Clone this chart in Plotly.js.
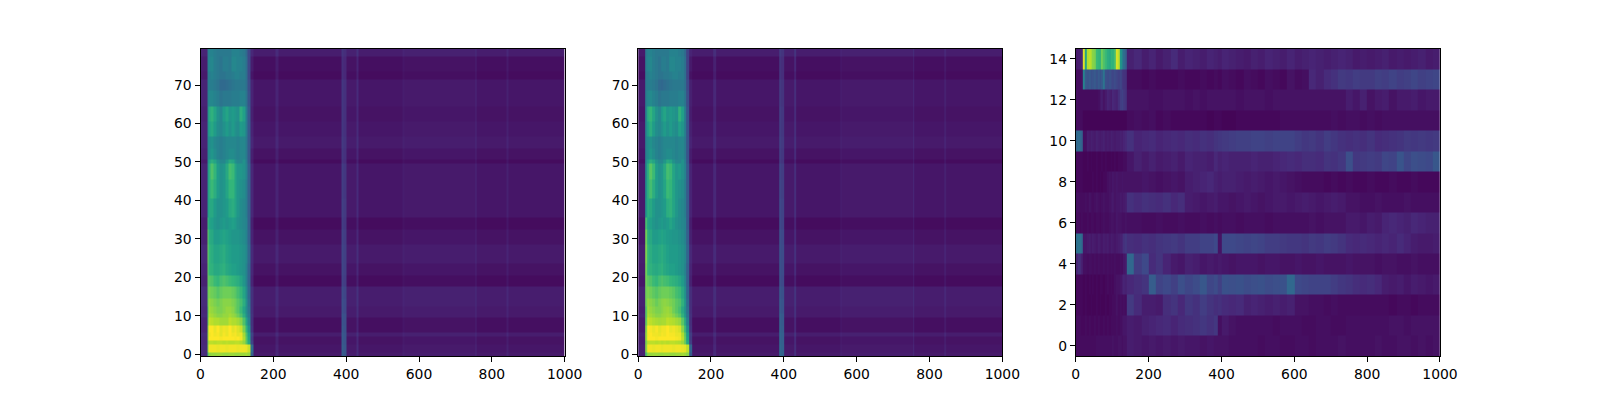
<!DOCTYPE html>
<html>
<head>
<meta charset="utf-8">
<script src="https://cdn.plot.ly/plotly-3.0.1.min.js"></script>
<style>html,body{margin:0;padding:0;background:#fff}#chart{width:1600px;height:400px}</style>
</head>
<body>
<div id="chart"></div>
<script>
// Shared band edges of the two spectrogram panels
const specY = [-0.5,0.5,2.5,3.5,4.5,5.5,7.5,9.5,10.5,12.5,14.5,17.5,20.5,23.5,28.5,32.5,35.5,40.5,45.5,49.5,50.5,53.5,56.5,60.5,64.5,68.5,71.5,73.5,77.5,79.5];
const leftX = [0,18,22,28,36,44,52,60,68,76,84,92,100,108,116,124,130,137,145,207,214,388,394,400,428,434,555,560,754,758,840,845,1000];
const midX = [0,20,24,30,38,46,54,62,70,78,86,94,102,110,118,126,132,139,147,207,214,388,394,402,428,434,555,560,754,758,840,845,1000];
const leftZ = [
[12,70,82,84,84,85,85,84,84,85,85,84,84,85,85,86,84,30, 7,11,7,29,27,8,13,7,9,8,12,7,10,7],
[12,80,98,98,98,97,98,98,97,98,98,98,97,98,98,97,92,35, 6,10,6,29,27,7,12,6,8,7,11,6,9,6],
[11,78,90,90,89,90,90,89,90,89,89,90,90,88,84,74,60,20, 5,9,5,28,26,6,11,5,7,6,10,5,8,5],
[11,82,100,100,100,100,99,100,100,100,100,99,100,98,88,74,58,18, 5,9,5,28,26,6,11,5,7,6,10,5,8,5],
[12,82,98,100,98,99,96,99,97,100,98,99,96,97,86,72,56,20, 8,12,8,28,26,9,14,8,10,9,13,8,11,8],
[10,80,100,100,97,100,96,98,97,100,96,98,95,92,80,66,50,15, 4,8,4,27,25,5,10,4,6,5,9,4,7,4],
[10,74,92,90,88,88,86,86,86,90,88,88,86,82,72,58,44,14, 4,8,4,26,24,5,10,4,6,5,9,4,7,4],
[12,72,88,86,84,82,82,84,84,86,84,82,78,72,62,50,40,15, 7,11,7,26,24,8,13,7,9,8,12,7,10,7],
[11,72,86,84,82,80,80,82,84,84,82,78,74,68,58,48,38,14, 7,11,7,24,22,8,13,7,9,8,12,7,10,7],
[12,76,84,82,80,78,80,82,82,82,80,78,74,70,62,50,36,14, 8,12,8,24,22,9,14,8,10,9,13,8,11,8],
[12,76,80,78,76,73,76,78,78,78,76,74,70,66,58,48,34,14, 8,12,8,23,21,9,14,8,10,9,13,8,11,8],
[9,76,74,72,68,66,70,72,70,68,66,64,62,58,52,44,32,10, 3,7,3,20,18,4,9,3,5,4,8,3,6,3],
[10,76,66,64,60,60,62,64,60,58,56,56,54,52,50,44,32,11, 5,9,5,21,19,6,11,5,7,6,10,5,8,5],
[11,78,66,62,58,58,60,62,58,56,54,54,54,52,50,46,34,12, 7,11,7,21,19,8,13,7,9,8,12,7,10,7],
[9,76,62,60,54,54,56,58,56,54,52,52,52,50,48,44,32,10, 5,9,5,20,18,6,11,5,7,6,10,5,8,5],
[8,68,58,56,52,50,52,54,52,54,56,54,50,48,46,44,30,9, 3,7,3,18,16,4,9,3,5,4,8,3,6,3],
[10,52,60,60,54,50,50,52,54,60,62,58,52,48,46,42,30,11, 6,10,6,19,17,7,12,6,8,7,11,6,9,6],
[10,50,62,68,62,54,50,52,58,66,66,58,52,50,48,42,30,11, 6,10,6,18,16,7,12,6,8,7,11,6,9,6],
[10,48,62,72,66,54,50,52,60,70,68,58,52,52,50,44,30,11, 6,10,6,18,16,7,12,6,8,7,11,6,9,6],
[7,46,56,62,58,50,46,46,52,60,58,50,46,46,50,42,28,8, 3,7,3,15,13,4,9,3,5,4,8,3,6,3],
[9,44,48,52,48,44,42,44,46,48,48,46,44,46,46,40,28,9, 5,9,5,16,14,6,11,5,7,6,10,5,8,5],
[10,44,48,50,46,44,42,44,46,46,46,46,44,46,46,40,28,11, 7,11,7,17,15,8,13,7,9,8,12,7,10,7],
[10,46,56,60,54,48,46,50,54,50,54,50,48,54,52,42,28,10, 6,10,6,16,14,7,12,6,8,7,11,6,9,6],
[9,46,60,64,58,50,46,54,58,52,54,52,50,62,56,42,28,9, 5,9,5,16,14,6,11,5,7,6,10,5,8,5],
[10,42,46,46,44,42,38,40,40,40,42,42,42,44,44,38,26,10, 6,10,6,16,14,7,12,6,8,7,11,6,9,6],
[10,40,42,42,40,38,34,34,35,37,39,40,40,40,40,36,24,10, 6,10,6,16,14,7,12,6,8,7,11,6,9,6],
[7,40,42,44,42,40,38,38,40,40,42,44,44,42,42,36,22,6, 3,7,3,13,11,4,9,3,5,4,8,3,6,3],
[8,42,45,46,42,40,38,42,42,40,46,46,44,44,42,36,22,8, 4,8,4,13,11,5,10,4,6,5,9,4,7,4],
[10,40,44,44,42,40,40,40,40,40,44,44,44,42,40,34,22,11, 8,12,8,15,13,9,14,8,10,9,13,8,11,8]
];
const midZ = [
[9,72,83,84,85,85,84,84,85,85,84,84,85,85,86,85,82,28, 7,12,7,33,31,8,14,7,9,8,12,7,10,7],
[9,82,98,98,97,98,98,97,98,98,98,97,98,98,97,96,90,32, 6,11,6,33,31,7,13,6,8,7,11,6,9,6],
[8,80,90,90,90,89,90,89,90,89,90,90,89,88,85,76,58,18, 5,10,5,32,30,6,12,5,7,6,10,5,8,5],
[8,84,100,100,100,99,100,100,100,100,100,100,99,98,90,76,56,17, 5,10,5,32,30,6,12,5,7,6,10,5,8,5],
[9,84,99,100,98,98,97,99,98,100,99,99,97,97,88,74,54,18, 8,13,8,32,30,9,15,8,10,9,13,8,11,8],
[7,82,100,99,97,99,96,98,98,100,97,98,96,94,82,68,48,14, 4,9,4,31,29,5,11,4,6,5,9,4,7,4],
[7,76,92,90,88,87,86,87,87,90,89,88,86,84,74,60,42,13, 4,9,4,30,28,5,11,4,6,5,9,4,7,4],
[9,74,88,86,84,82,82,84,85,86,85,82,78,74,64,52,38,14, 7,12,7,30,28,8,14,7,9,8,12,7,10,7],
[8,74,86,84,82,80,80,82,84,85,83,78,74,70,60,50,36,13, 7,12,7,28,26,8,14,7,9,8,12,7,10,7],
[9,78,84,82,80,77,80,82,83,82,80,78,74,72,64,52,34,13, 8,13,8,28,26,9,15,8,10,9,13,8,11,8],
[9,78,80,78,75,73,76,78,78,78,76,74,70,68,60,50,32,13, 8,13,8,27,25,9,15,8,10,9,13,8,11,8],
[6,78,74,72,68,66,70,72,70,69,66,64,62,59,54,46,30,9, 3,8,3,24,22,4,9,3,5,4,8,3,6,3],
[7,78,66,64,61,60,62,64,60,58,56,56,54,52,50,44,30,10, 5,10,5,25,23,6,12,5,7,6,10,5,8,5],
[8,80,66,62,58,58,60,62,59,56,54,54,54,52,50,46,32,11, 7,12,7,25,23,8,14,7,9,8,12,7,10,7],
[6,78,62,60,54,54,56,58,56,54,53,52,52,50,48,44,30,9, 5,10,5,24,22,6,12,5,7,6,10,5,8,5],
[5,70,58,56,52,50,52,54,52,54,58,54,50,48,46,44,28,8, 3,8,3,22,20,4,10,3,5,4,8,3,6,3],
[7,52,62,60,54,50,50,52,54,62,64,58,52,48,46,42,28,10, 6,11,6,22,20,7,13,6,8,7,11,6,9,6],
[7,50,64,70,62,54,50,52,58,68,66,58,52,50,48,42,28,10, 6,11,6,21,19,7,13,6,8,7,11,6,9,6],
[7,48,64,74,68,54,50,52,60,70,68,58,52,54,50,44,28,10, 6,11,6,20,18,7,13,6,8,7,11,6,9,6],
[4,46,56,62,58,50,46,46,52,60,58,50,46,46,50,42,26,7, 3,8,3,17,15,4,9,3,5,4,8,3,6,3],
[6,44,48,52,48,44,42,44,46,48,48,46,44,46,46,40,26,8, 5,10,5,18,16,6,12,5,7,6,10,5,8,5],
[7,44,48,50,46,44,42,44,46,46,46,46,44,46,46,40,26,10, 7,12,7,19,17,8,14,7,9,8,12,7,10,7],
[7,46,56,62,54,48,46,50,54,50,54,50,48,56,52,42,26,9, 6,11,6,18,16,7,13,6,8,7,11,6,9,6],
[6,46,62,66,58,50,46,54,58,52,54,52,50,64,56,42,26,8, 5,10,5,18,16,6,12,5,7,6,10,5,8,5],
[7,42,46,47,44,42,38,40,40,40,42,42,42,44,44,38,24,9, 6,11,6,17,15,7,13,6,8,7,11,6,9,6],
[7,40,42,42,40,38,34,33,35,37,39,40,40,40,40,36,22,9, 6,11,6,17,15,7,13,6,8,7,11,6,9,6],
[4,40,42,44,42,40,38,38,40,40,42,44,44,42,42,36,20,5, 3,8,3,15,13,4,9,3,5,4,8,3,6,3],
[5,42,45,46,42,40,38,42,42,40,46,46,44,44,42,36,20,7, 4,9,4,15,13,5,11,4,6,5,9,4,7,4],
[7,40,44,44,42,40,40,40,40,40,44,44,44,42,40,34,20,10, 8,13,8,17,15,9,15,8,10,9,13,8,11,8]
];

// Third panel
const rightY = [-0.5,0.5,1.5,2.5,3.5,4.5,5.5,6.5,7.5,8.5,9.5,10.5,11.5,12.5,13.5,14.5];
const rightX = [0,5,10,15,20,25,30,35,40,45,50,55,60,65,70,75,80,85,90,95,100,105,110,115,120,125,130,135,140,160,180,200,220,240,260,280,300,320,340,360,380,390,400,420,440,460,480,500,520,540,560,580,600,620,640,660,680,700,720,740,760,780,800,820,840,860,880,900,920,940,960,980,1000];
const rightZ = [
[3,3,3,3,3,3,3,3,3,3,3,4,4,4,4,4,4,4,4,4,5,4,4,5,5,4,5,5, 8,7,6,7,6,7,6,7,6,6,5,6,5,5,5,4,4,4,4,3,4,4,3,3,4,4,3,4,4,4,5,4,4,4,4,5,4,4,5,5,4,5,4,5],
[3,3,3,2,2,3,2,3,2,2,3,2,3,2,2,3,2,3,2,3,3,3,4,3,4,5,6,6, 8,7,9,10,11,12,10,12,13,14,16,14,16,4,7,5,4,4,4,4,4,3,4,4,4,3,3,4,4,3,3,4,4,4,4,4,4,5,5,4,5,5,5,5],
[2,2,2,2,1,2,1,1,2,1,1,2,1,2,1,1,2,1,2,2,3,3,5,3,4,3,4,3, 17,12,8,8,7,13,15,11,16,14,18,15,13,14,12,11,12,9,10,9,8,9,8,9,5,5,4,4,3,4,3,3,3,3,3,3,3,2,3,3,2,3,3,3],
[2,2,2,2,1,2,1,2,1,2,1,2,1,2,2,1,2,3,2,3,2,4,5,5,6,8,10,9, 11,13,15,29,20,22,19,24,21,23,27,21,23,19,25,24,25,23,24,25,23,24,25,33,22,21,20,20,20,18,16,15,13,12,13,11,8,7,8,6,8,7,6,7],
[10,14,13,9,4,4,3,4,4,3,4,3,4,3,3,4,3,4,3,4,3,4,3,3,4,3,6,7, 33,18,22,12,15,10,7,6,9,8,6,7,6,7,6,5,6,6,6,5,6,6,5,5,6,5,5,6,5,5,5,6,5,5,5,4,5,5,4,4,5,4,4,4],
[36,38,38,34,6,6,7,8,6,8,7,6,8,7,6,8,7,8,6,8,7,6,7,8,9,10,14,16, 13,12,14,13,15,16,17,15,18,18,20,20,22,5,22,22,21,20,21,20,18,18,17,16,16,15,17,16,18,17,15,12,11,12,11,10,11,10,12,10,8,7,7,8],
[3,3,2,3,2,2,3,2,3,3,2,3,3,2,3,4,3,3,4,5,5,4,6,5,5,4,4,5, 4,4,3,3,4,3,3,4,3,3,4,3,4,3,4,4,3,4,4,4,3,4,4,4,4,4,5,4,5,5,5,7,7,6,8,7,10,11,10,9,11,10,9,9],
[4,4,3,3,3,4,3,5,4,3,4,5,4,3,4,5,4,4,5,6,7,5,6,6,7,6,7,8, 14,12,14,13,12,14,11,13,8,7,6,7,8,6,6,5,6,7,6,5,6,7,7,6,7,8,7,6,7,8,7,5,5,4,4,5,4,4,4,5,4,4,4,4],
[2,2,2,2,1,1,1,1,1,2,1,2,1,2,1,2,2,4,5,4,6,5,6,5,5,6,5,5, 5,5,6,5,4,5,6,5,8,9,10,11,9,8,9,9,8,7,8,7,6,7,6,5,4,3,3,3,2,3,2,3,2,2,3,2,2,3,2,2,3,2,2,2],
[2,2,2,2,1,1,2,1,2,1,1,2,1,1,2,1,2,1,1,2,1,2,1,2,2,2,3,3, 6,9,7,9,7,8,9,7,10,9,9,8,11,9,10,9,9,9,10,9,9,10,11,12,11,13,13,12,15,14,16,24,16,17,18,17,21,20,26,21,24,23,22,27],
[33,35,34,31,4,4,8,7,9,8,7,9,8,7,8,9,7,8,7,9,8,7,8,8,9,8,10,11, 14,10,11,12,10,11,12,11,13,12,14,13,15,16,17,18,19,19,20,20,19,20,20,20,18,16,17,15,18,16,14,13,14,13,15,12,13,14,15,17,16,17,16,17],
[3,3,3,3,1,1,1,1,1,1,1,1,1,1,1,1,1,1,1,1,1,1,1,1,1,1,1,1, 3,4,3,4,2,3,2,2,2,2,2,1,2,2,1,1,2,2,2,2,2,2,3,3,3,3,3,3,3,4,3,4,4,3,4,3,4,4,4,4,4,4,4,4],
[4,3,3,3,3,3,3,3,3,3,3,3,4,6,8,5,7,10,9,7,11,10,9,13,18,20,17,15, 5,5,5,4,4,5,5,5,4,5,4,5,5,5,5,5,4,5,5,5,4,5,5,5,5,5,5,5,5,5,5,8,6,9,5,7,8,5,7,7,8,6,7,7],
[3,3,3,4,44,28,26,28,25,26,28,25,28,25,28,38,25,23,25,23,21,23,21,19,21,17,15,14, 3,3,2,3,2,2,2,3,2,2,3,2,3,2,4,3,2,4,3,2,4,3,2,5,3,4,11,9,12,14,17,16,18,17,17,19,18,20,18,19,21,19,20,21],
[7,8,9,10,95,58,88,90,88,82,80,68,66,62,78,72,68,62,60,66,64,70,94,90,52,44,36,30, 9,11,8,10,7,9,12,8,10,9,8,10,9,8,10,9,8,7,9,8,10,9,8,10,8,9,10,9,8,9,10,9,7,8,7,8,9,7,8,7,8,9,7,8]
];

const xTicks = [0,200,400,600,800,1000];
const leftYTicks = [0,10,20,30,40,50,60,70];
const rightYTicks = [0,2,4,6,8,10,12,14];
const viridis = [[0,'#440154'],[0.11,'#482878'],[0.22,'#3e4989'],[0.33,'#31688e'],[0.44,'#26828e'],[0.55,'#1f9e89'],[0.67,'#35b779'],[0.78,'#6ece58'],[0.89,'#b5de2b'],[1,'#fde725']];

function heat(x, y, z, xa, ya) {
  return {type:'heatmap', x:x, y:y, z:z, xaxis:xa, yaxis:ya, zmin:0, zmax:100,
          colorscale:viridis, showscale:false, hoverinfo:'skip'};
}
function axis(domain, range, ticks, anchor) {
  return {domain:domain, range:range, anchor:anchor, tickmode:'array', tickvals:ticks, ticktext:ticks.map(String),
          ticks:'outside', ticklen:5, tickwidth:1, tickcolor:'#000', showline:true, linecolor:'#000', linewidth:1,
          mirror:true, showgrid:false, zeroline:false, automargin:false,
          tickfont:{family:'DejaVu Sans', size:13.9, color:'#000'}};
}
const w = 364.7/1600, g = 72.94/1600, l0 = 0.125, insetX = 0.5/1600, insetY = 0.5/400;
const dom = i => [l0 + i*(w+g) + insetX, l0 + i*(w+g) + w];
const yDom = [0.11, 0.88 - insetY];
const layout = {
  width:1600, height:400, margin:{l:0,r:0,t:0,b:0}, paper_bgcolor:'#fff', plot_bgcolor:'#fff', showlegend:false,
  xaxis:axis(dom(0),[0,1000],xTicks,'y'),   yaxis:axis(yDom,[-0.5,79.5],leftYTicks,'x'),
  xaxis2:axis(dom(1),[0,1000],xTicks,'y2'), yaxis2:axis(yDom,[-0.5,79.5],leftYTicks,'x2'),
  xaxis3:axis(dom(2),[0,1000],xTicks,'y3'), yaxis3:axis(yDom,[-0.5,14.5],rightYTicks,'x3')
};
Plotly.newPlot('chart',[
  heat(leftX,specY,leftZ,'x','y'),
  heat(midX,specY,midZ,'x2','y2'),
  heat(rightX,rightY,rightZ,'x3','y3')
],layout,{displayModeBar:false,staticPlot:true});
</script>
</body>
</html>
